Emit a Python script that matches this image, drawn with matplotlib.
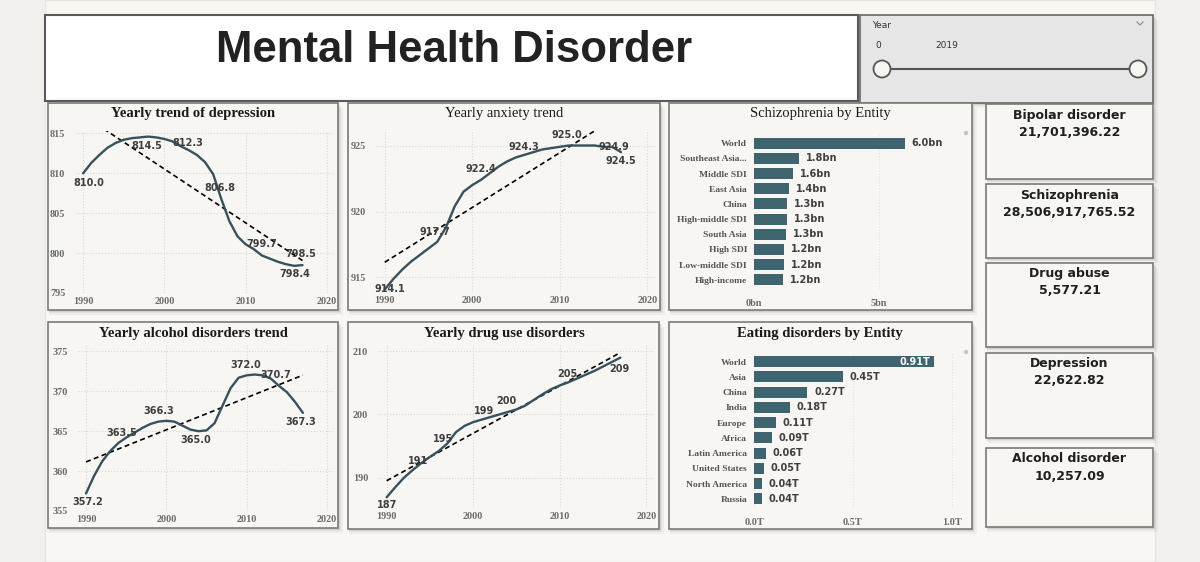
import numpy as np
import matplotlib.pyplot as plt
from matplotlib.patches import Rectangle, Circle

W, H = 1200, 562

years = list(range(1990, 2018))
depression = [810.0, 811.3, 812.3, 813.2, 813.8, 814.2, 814.4, 814.5, 814.6, 814.5,
              814.3, 814.0, 813.4, 812.9, 812.3, 811.4, 809.9, 806.8, 804.0, 802.1,
              801.1, 800.5, 799.7, 799.3, 798.9, 798.6, 798.4, 798.5]
anxiety = [914.1, 914.9, 915.6, 916.2, 916.7, 917.2, 917.7, 918.8, 920.4, 921.5,
           922.0, 922.4, 922.9, 923.4, 923.8, 924.1, 924.3, 924.5, 924.7, 924.8,
           924.9, 925.0, 925.0, 925.0, 925.0, 924.9, 924.9, 924.5]
alcohol = [357.2, 359.4, 361.2, 362.5, 363.5, 364.2, 364.8, 365.4, 365.9, 366.2,
           366.3, 366.2, 365.7, 365.2, 365.0, 365.1, 366.0, 368.2, 370.4, 371.7,
           372.0, 372.1, 372.0, 371.6, 370.7, 369.9, 368.7, 367.3]
drug_use = [186.9, 188.5, 190.0, 191.2, 192.3, 193.3, 194.2, 195.4, 197.2, 198.2,
            198.8, 199.2, 199.6, 200.0, 200.4, 200.8, 201.4, 202.3, 203.2, 204.0,
            204.6, 205.1, 205.7, 206.3, 206.9, 207.6, 208.3, 209.0]

schizo_entities = ['World', 'Southeast Asia...', 'Middle SDI', 'East Asia', 'China',
                   'High-middle SDI', 'South Asia', 'High SDI', 'Low-middle SDI', 'High-income']
schizo_bn = [6.02, 1.80, 1.57, 1.40, 1.33, 1.33, 1.28, 1.21, 1.20, 1.17]

eating_entities = ['World', 'Asia', 'China', 'India', 'Europe', 'Africa',
                   'Latin America', 'United States', 'North America', 'Russia']
eating_t = [0.91, 0.45, 0.27, 0.18, 0.11, 0.09, 0.06, 0.05, 0.04, 0.04]

kpi_names = ['Bipolar disorder', 'Schizophrenia', 'Drug abuse', 'Depression', 'Alcohol disorder']
kpi_values = ['21,701,396.22', '28,506,917,765.52', '5,577.21', '22,622.82', '10,257.09']

LINE = '#36525c'
BAR = '#3e6470'
PANEL_BG = '#f7f6f2'
SERIF = 'Liberation Serif'

fig = plt.figure(figsize=(12, 5.62), dpi=100, facecolor='#f1f0ec')
bg = fig.add_axes([0, 0, 1, 1], zorder=0)
bg.set_xlim(0, W)
bg.set_ylim(H, 0)
bg.axis('off')


def box(x0, y0, x1, y1, fc, ec='#7a7a7a', lw=1.2, shadow=True):
    if shadow:
        # soft shadow: a few stacked translucent rectangles
        for off, a in ((5, 0.10), (3, 0.15), (2, 0.2)):
            bg.add_patch(Rectangle((x0 + 1, y0 + off), x1 - x0 + off - 1, y1 - y0,
                                   fc='#9a9994', ec='none', alpha=a))
    bg.add_patch(Rectangle((x0, y0), x1 - x0, y1 - y0, fc=fc, ec=ec, lw=lw))


def px_axes(x0, y0, x1, y1):
    ax = fig.add_axes([x0 / W, 1 - y1 / H, (x1 - x0) / W, (y1 - y0) / H], zorder=1)
    ax.set_facecolor('none')
    for s in ax.spines.values():
        s.set_visible(False)
    ax.tick_params(length=0, labelsize=7.3, labelcolor='#6b6b6b')
    return ax


def style_ticks(ax):
    for t in ax.get_xticklabels() + ax.get_yticklabels():
        t.set_fontfamily(SERIF)
        t.set_fontweight('bold')


# canvas
bg.add_patch(Rectangle((45, 0), 1110, H, fc='#f8f7f4', ec='#e6e5e1', lw=1))
box(45, 15, 858, 101, 'white', ec='#5a5a5a', lw=1.5, shadow=False)
bg.text(454, 62, 'Mental Health Disorder', ha='center', va='baseline',
        family='Liberation Sans', fontsize=31.5, weight='bold', color='#222222')

# year slicer
box(860, 15, 1153, 103, '#e6e6e6', ec='#666666', lw=1.2)
bg.text(872, 25, 'Year', ha='left', va='center', fontsize=6.5, color='#333333')
bg.text(878, 45, '0', ha='center', va='center', fontsize=6.5, color='#333333')
bg.text(947, 45, '2019', ha='center', va='center', fontsize=6.5, color='#333333')
bg.plot([1137, 1140, 1143], [22, 25, 22], color='#888888', lw=0.8)
bg.plot([882, 1138], [69, 69], color='#555555', lw=1.5)
for cx in (882, 1138):
    bg.add_patch(Circle((cx, 69), 8.5, fc='#f6f5f1', ec='#555555', lw=1.3, zorder=3))

# panels
panels = [(48, 103, 338, 310), (348, 103, 660, 310), (669, 103, 972, 310),
          (48, 322, 338, 528), (348, 322, 659, 529), (669, 322, 972, 529)]
for p in panels:
    box(*p, PANEL_BG)

titles = [('Yearly trend of depression', 193, 114, 'bold'),
          ('Yearly anxiety trend', 504, 114, 'normal'),
          ('Schizophrenia by Entity', 820, 114, 'normal'),
          ('Yearly alcohol disorders trend', 193, 333, 'bold'),
          ('Yearly drug use disorders', 504, 333, 'bold'),
          ('Eating disorders by Entity', 820, 333, 'bold')]
for t, cx, cy, w in titles:
    bg.text(cx, cy, t, ha='center', va='center', family=SERIF, fontsize=10.5,
            weight=w, color='#1a1a1a')


def line_panel(pxbox, ylim, values, yticks, labels, fmt):
    ax = px_axes(*pxbox)
    ax.plot(years, values, color=LINE, lw=1.7, solid_capstyle='round', zorder=3)
    k, b = np.polyfit(years, values, 1)
    ax.plot([years[0], years[-1]], [k * years[0] + b, k * years[-1] + b],
            color='black', lw=1.2, ls=(0, (3, 2)), zorder=2)
    ax.set_xlim(1989, 2021)
    ax.set_ylim(ylim)
    ax.set_xticks([1990, 2000, 2010, 2020])
    ax.set_yticks(yticks)
    ax.grid(True, color='#d8d8d8', ls=':', lw=0.8)
    ax.tick_params(axis='x', pad=3)
    ax.tick_params(axis='y', pad=7)
    style_ticks(ax)
    for yr, dx, dy in labels:
        v = values[years.index(yr)]
        ax.annotate(fmt.format(v), (yr, v), xytext=(dx, -dy), textcoords='offset pixels',
                    ha='center', va='center', fontsize=7, fontweight='bold',
                    color='#3f3f3f', zorder=4)
    return ax


line_panel((75, 131, 335, 293), (795, 815.3), depression, [795, 800, 805, 810, 815],
           [(1990, 6, 10), (1997, 7, 9), (2004, -9, -12), (2007, -1, -11),
            (2012, 0, -11), (2016, 0, 8), (2017, -2, -11)], '{:.1f}')
line_panel((376, 131, 656, 292), (913.9, 926.1), anxiety, [915, 920, 925],
           [(1990, 5, 0), (1996, -2, -10), (2001, 0, -11), (2006, -1, -8),
            (2011, -2, -11), (2016, 2, 0), (2017, 0, 9)], '{:.1f}')
line_panel((78, 345, 335, 511), (355, 375.8), alcohol, [355, 360, 365, 370, 375],
           [(1990, 2, 9), (1994, 4, -10), (2000, -8, -10), (2004, -3, 9),
            (2010, -1, -10), (2014, -3, -11), (2017, -2, 9)], '{:.1f}')
line_panel((378, 345, 655, 508), (185.2, 211), drug_use, [190, 200, 210],
           [(1990, 0, 8), (1993, 5, -9), (1997, -4, -5), (2001, 2, -9),
            (2004, -1, -11), (2011, -1, -8), (2017, -1, 11)], '{:.0f}')


def bar_panel(pxbox, xmax, ents, vals, fmt, xticks, xticklabels, inside_first):
    ax = px_axes(*pxbox)
    pos = np.arange(len(ents))
    ax.barh(pos, vals, height=0.72, color=BAR, zorder=2)
    ax.set_ylim(len(ents) - 0.4, -0.6)
    ax.set_xlim(0, xmax)
    ax.set_yticks(pos)
    ax.set_yticklabels(ents)
    ax.set_xticks(xticks)
    ax.set_xticklabels(xticklabels)
    ax.tick_params(axis='y', pad=5, labelsize=6.8, labelcolor='#555555')
    ax.tick_params(axis='x', pad=7)
    ax.grid(True, axis='x', color='#e2e2e2', ls=':', lw=0.8)
    style_ticks(ax)
    for i, v in enumerate(vals):
        if inside_first and i == 0:
            ax.annotate(fmt.format(v), (v, i), xytext=(-4, 0), textcoords='offset pixels',
                        ha='right', va='center', fontsize=7, fontweight='bold', color='white', zorder=3)
        else:
            ax.annotate(fmt.format(v), (v, i), xytext=(7, 0), textcoords='offset pixels',
                        ha='left', va='center', fontsize=7, fontweight='bold', color='#3f3f3f', zorder=3)
    return ax


bar_panel((754, 134, 962, 289), 8.3, schizo_entities, schizo_bn, '{:.1f}bn',
          [0, 5], ['0bn', '5bn'], False)
bar_panel((754, 352.5, 963.6, 508), 1.06, eating_entities, eating_t, '{:.2f}T',
          [0, 0.5, 1.0], ['0.0T', '0.5T', '1.0T'], True)

# scroll indicators
for sy in (133, 352):
    bg.add_patch(Circle((966, sy), 2.2, fc='#c4c4c4', ec='none', zorder=3))

# KPI cards
cards = [(104, 179), (184, 258), (263, 347), (353, 438), (448, 527)]
for (y0, y1), name, val in zip(cards, kpi_names, kpi_values):
    box(986, y0, 1153, y1, PANEL_BG, ec='#7a7a7a', lw=1.2)
    bg.text(1069.5, y0 + 11, name, ha='center', va='center', fontsize=9,
            weight='bold', color='#1f1f1f')
    bg.text(1069.5, y0 + 28, val, ha='center', va='center', fontsize=9,
            weight='bold', color='#1f1f1f')

fig.savefig('out.png', dpi=100, facecolor=fig.get_facecolor())
